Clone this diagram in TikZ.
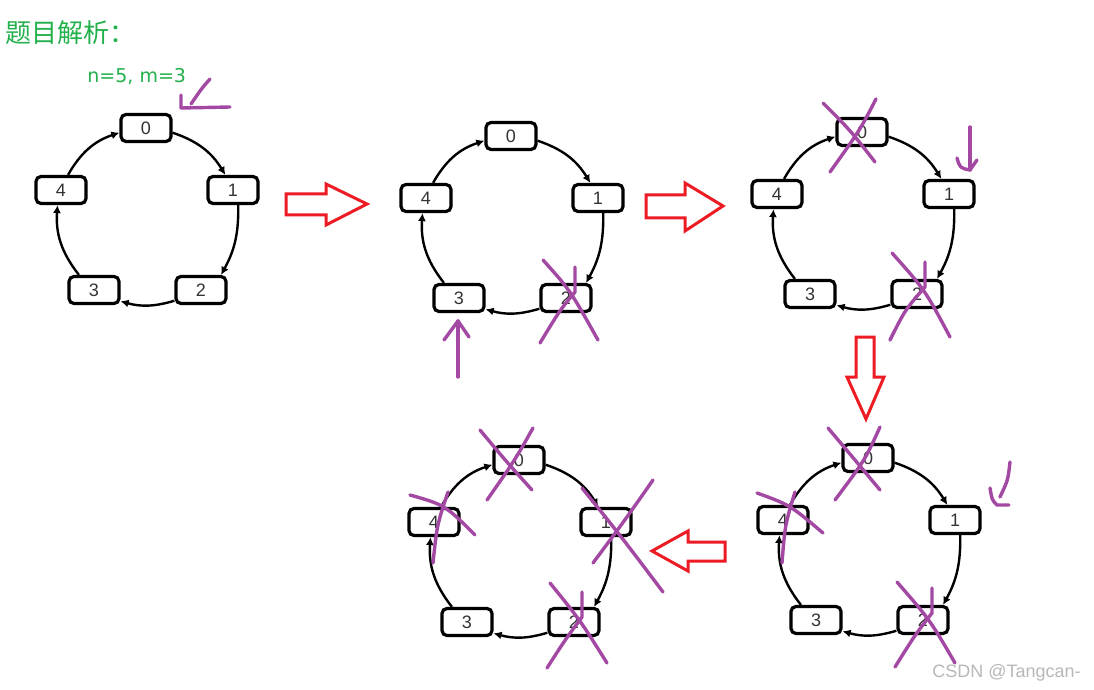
\documentclass[tikz,border=0pt]{standalone}
\usepackage{fontspec}
\setmainfont{Liberation Sans}
\newfontfamily\cjk{Noto Sans CJK SC}
\newfontfamily\dvs{DejaVu Sans}
\usepackage{tikz}
\usetikzlibrary{arrows.meta}
\usepackage{xcolor}
\definecolor{PGreen}{HTML}{22B14C}
\definecolor{PRed}  {HTML}{ED1C24}
\definecolor{PPurp} {HTML}{A349A4}
\definecolor{DGray} {HTML}{333333}
\definecolor{WGray} {HTML}{B8B8B8}
\tikzset{
  cbox/.style={
    rectangle, rounded corners=2.5pt,
    draw=black, fill=white, text=DGray,
    font=\fontsize{9}{9}\selectfont,
    inner sep=0pt, minimum width=25pt, minimum height=13.5pt,
    line width=1.6pt,
  },
  carr/.style={
    -{Latex[length=4pt,width=4pt]},
    line width=1.2pt, color=black,
  },
  strk/.style={
    draw=PPurp, line width=1.7pt, line cap=round, line join=round,
  },
  bigarr/.style={
    draw=PRed, line width=1.5pt, line join=miter,
  },
}

\begin{document}
\begin{tikzpicture}[x=0.5pt,y=-0.5pt]
    \useasboundingbox[fill=white] (0,0) rectangle (1094,690);

    \node[font=\cjk\fontsize{13}{13}\selectfont,text=PGreen,anchor=west,inner sep=0pt] (title) at (5,33) {题目解析：};
    \node[font=\dvs\fontsize{9.5}{9.5}\selectfont,text=PGreen,anchor=west,inner sep=0pt] (nm) at (87,77) {n=5, m=3};

    % the five rings
    \foreach \r/\ox/\oy in {a/146/128, b/511/136, c/862/132, d/868/458, e/519/460}{
      \begin{scope}[shift={(\ox,\oy)}]
        \node[cbox] (\r0) at (0,0)     {0};
        \node[cbox] (\r1) at (87,62)   {1};
        \node[cbox] (\r2) at (55,162)  {2};
        \node[cbox] (\r3) at (-52,162) {3};
        \node[cbox] (\r4) at (-85,62)  {4};
        \draw[carr] (\r0.350) to[bend left=20] (\r1.117);
        \draw[carr] (\r1.289) to[bend left=15] (\r2.37);
        \draw[carr] (\r2.202) to[bend left=16] (\r3.337);
        \draw[carr] (\r3.135) to[bend left=21] (\r4.257);
        \draw[carr] (\r4.65)  to[bend left=21] (\r0.190);
      \end{scope}
    }

    % red block arrows
    \draw[bigarr] (286,194) -- (326,194) -- (326,184) -- (367,204) -- (326,225) -- (326,215) -- (286,215) -- cycle;
    \draw[bigarr] (646,195) -- (685,195) -- (685,183) -- (723,206) -- (685,231) -- (685,218) -- (646,218) -- cycle;
    \draw[bigarr] (856,337) -- (874,337) -- (874,377) -- (884,377) -- (866,419) -- (847,377) -- (856,377) -- cycle;
    \draw[bigarr] (725,542) -- (688,542) -- (688,531) -- (652,551) -- (688,571) -- (688,561) -- (725,561) -- cycle;

    % purple marks
    \draw[strk] (210,79) .. controls (202,88) .. (191,104);
    \draw[strk] (181,95) -- (181,108) -- (230,107);

    \draw[strk] (543,260) .. controls (570,290) .. (598,340);
    \draw[strk] (575,267) -- (575,292) .. controls (560,310) .. (540,343);
    \draw[strk] (458,377) -- (458,321);
    \draw[strk] (444,340) -- (458,321) -- (469,337);

    \draw[strk] (823,103) .. controls (850,130) .. (875,162);
    \draw[strk] (876,99) .. controls (860,130) .. (830,172);
    \draw[strk] (892,253) .. controls (925,290) .. (950,337);
    \draw[strk] (925,262) -- (925,287) .. controls (905,310) .. (890,340);
    \draw[strk] (970,127) -- (970,170);
    \draw[strk] (957,158) .. controls (960,168) .. (970,170) -- (977,160);

    \draw[strk] (828,428) .. controls (855,460) .. (880,490);
    \draw[strk] (880,427) .. controls (865,460) .. (835,500);
    \draw[strk] (757,493) .. controls (790,505) .. (823,533);
    \draw[strk] (795,492) .. controls (785,525) .. (782,563);
    \draw[strk] (897,582) .. controls (930,620) .. (955,663);
    \draw[strk] (932,588) -- (932,613) .. controls (915,635) .. (895,667);
    \draw[strk] (1010,462) .. controls (1008,480) .. (1000,497);
    \draw[strk] (990,488) .. controls (992,500) .. (997,505) -- (1009,505);

    \draw[strk] (480,430) .. controls (505,460) .. (532,490);
    \draw[strk] (533,428) .. controls (515,460) .. (487,500);
    \draw[strk] (410,495) .. controls (445,505) .. (475,535);
    \draw[strk] (448,492) .. controls (437,525) .. (433,563);
    \draw[strk] (582,488) .. controls (620,535) .. (663,592);
    \draw[strk] (653,480) .. controls (625,520) .. (593,563);
    \draw[strk] (550,583) .. controls (580,620) .. (607,663);
    \draw[strk] (582,592) -- (582,617) .. controls (565,640) .. (547,668);

    \node[font=\fontsize{9}{9}\selectfont,text=WGray,anchor=west,inner sep=0pt] (wm) at (932,673) {CSDN @Tangcan-};
  \end{tikzpicture}
\end{document}
